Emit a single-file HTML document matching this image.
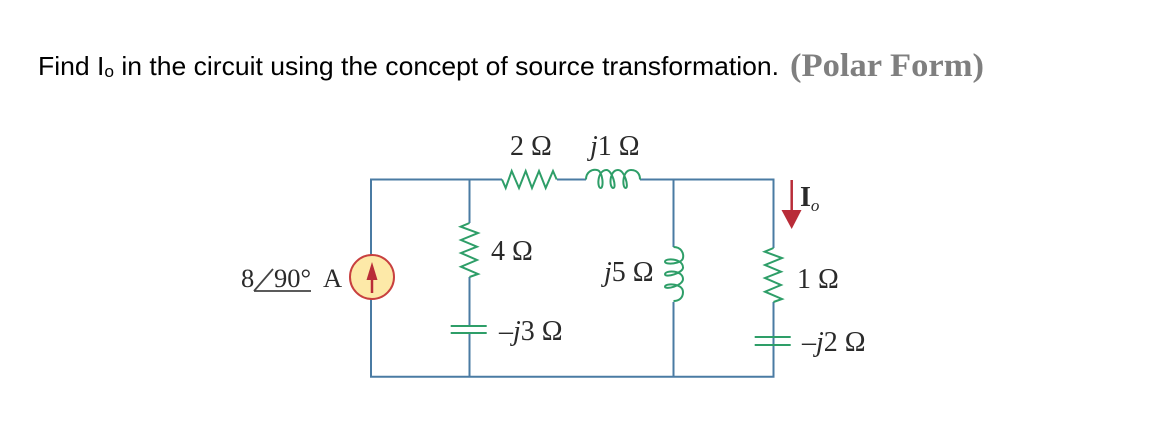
<!DOCTYPE html>
<html><head><meta charset="utf-8"><style>
html,body{margin:0;padding:0;background:#fff;width:1155px;height:435px;overflow:hidden}
svg{display:block}
.s{font-family:"Liberation Serif",serif;font-size:28px;fill:#2a2a2a}
.i{font-style:italic}
</style></head><body>
<svg width="1155" height="435" viewBox="0 0 1155 435" xmlns="http://www.w3.org/2000/svg">
<text x="38" y="75" font-family="Liberation Sans,sans-serif" font-size="26" fill="#000" textLength="741" lengthAdjust="spacingAndGlyphs">Find I<tspan font-size="17" dy="2">o</tspan><tspan dy="-2"> in the circuit using the concept of source transformation.</tspan></text>
<text x="790" y="76" font-family="Liberation Serif,serif" font-weight="bold" font-size="33" fill="#7f7f7f" textLength="194" lengthAdjust="spacingAndGlyphs">(Polar Form)</text>

<g fill="none" stroke="#4a7ba3" stroke-width="2">
<path d="M371 255V179.500H502M557 179.500H586M640 179.500H773.500V248M773.500 302V376.700H371V299"/>
<path d="M469.500 179.500V223M469.500 277V326M469.500 333V376.700M673.500 179.500V247M673.500 302V376.700M773.500 302V337M773.500 345V376.700"/>
</g>
<g fill="none" stroke="#2e9e68" stroke-width="2">
<path d="M502 179.500L505.700 188L511.700 171L519 188L525.700 171L532 188L539 171L545.700 188L553 171L556.700 179.500"/>
<path d="M469.500 223L460.700 226.700L478 233L461 240L477 246.700L461 253L477 260L461 266.700L478 274L469.500 277"/>
<path d="M773.500 248L764.700 251.700L782 258L765 265L781 271.700L765 278L781 285L765 291.700L782 299L773.500 302"/>
<path d="M450.700 326H486.700M450.700 333H486.700M754.700 337H790.700M754.700 345H790.700"/>
<path d="M586 179.500C586 172 592 169 597 170C603 171 604 188 600.700 188C597 188 597 171 606 170C612 169 617 188 613.300 188C609 188 609 170 618 170C625 170 629 188 625.700 188C622 188 622 170 631 170C637 170 640 174 640 179.500"/>
<path transform="matrix(0 1 -1 0 853 -339)" d="M586 179.500C586 172 592 169 597 170C603 171 604 188 600.700 188C597 188 597 171 606 170C612 169 617 188 613.300 188C609 188 609 170 618 170C625 170 629 188 625.700 188C622 188 622 170 631 170C637 170 640 174 640 179.500"/>
</g>
<circle cx="372" cy="277" r="22" fill="#fde9a8" stroke="#c8403f" stroke-width="2"/>
<path d="M372 293V275" stroke="#b92c38" stroke-width="2.500" fill="none"/>
<path d="M372 262L377.500 280H366.500Z" fill="#b92c38"/>
<path d="M791.700 180V212" stroke="#b92c38" stroke-width="2.500" fill="none"/>
<path d="M781.500 210H801.500L791.700 229Z" fill="#b92c38"/>

<text class="s" x="510" y="155">2 Ω</text>
<text class="s" x="590" y="155"><tspan class="i">j</tspan>1 Ω</text>
<text class="s" x="491" y="260">4 Ω</text>
<text class="s" x="604" y="281"><tspan class="i">j</tspan>5 Ω</text>
<text class="s" x="797" y="288">1 Ω</text>
<text class="s" x="499" y="340">–<tspan class="i">j</tspan>3 Ω</text>
<text class="s" x="802" y="351">–<tspan class="i">j</tspan>2 Ω</text>
<text class="s" x="241" y="287" font-size="26" style="font-size:26.500px">8</text>
<text class="s" x="274" y="287" style="font-size:26.500px">90°</text>
<text class="s" x="323" y="287" style="font-size:26.500px">A</text>
<path d="M254 291L273 269M254 291H311" stroke="#444" stroke-width="1.800" fill="none"/>
<text x="800" y="206" font-family="Liberation Serif,serif" font-weight="bold" font-size="28" fill="#2a2a2a">I<tspan class="i" font-weight="normal" font-size="17" dy="5">o</tspan></text>
</svg>
</body></html>
